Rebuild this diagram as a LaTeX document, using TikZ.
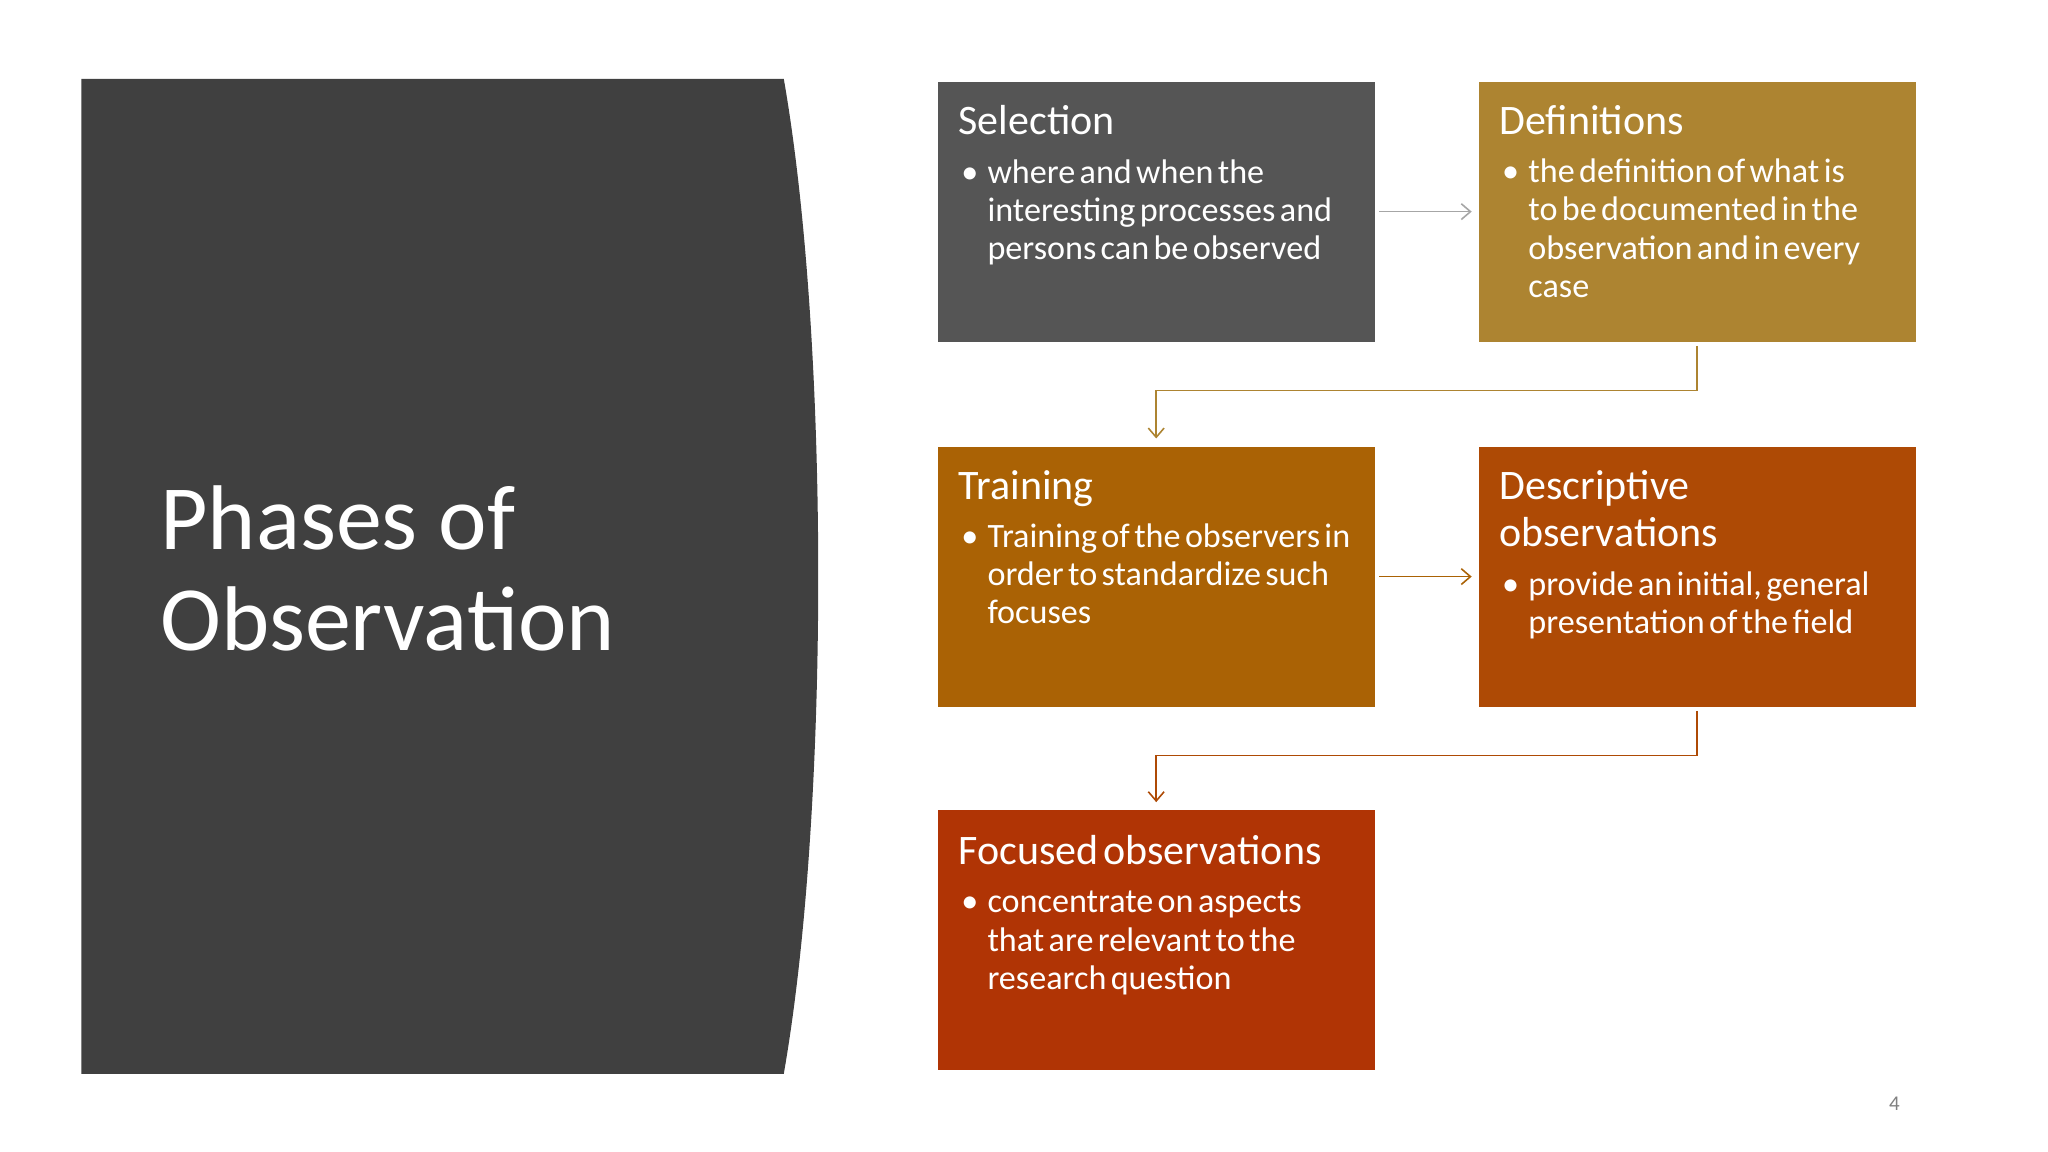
\documentclass[tikz,border=0pt]{standalone}
\usepackage{fontspec}
\setmainfont{Carlito}
\usetikzlibrary{arrows.meta}
\definecolor{cdark}{HTML}{404040}
\definecolor{csel}{HTML}{555555}
\definecolor{cdef}{HTML}{AD8431}
\definecolor{ctrn}{HTML}{AA6205}
\definecolor{cdes}{HTML}{AE4A05}
\definecolor{cfoc}{HTML}{B03405}
\hyphenpenalty=10000 \exhyphenpenalty=10000
\newcommand{\bul}[1]{\vspace{8pt}{\fontsize{26}{29}\selectfont\hangindent=22pt\hangafter=1\noindent\makebox[22pt][l]{\hspace{2pt}\textbullet}#1\par}}
\newcommand{\boxtext}[2]{{\fontsize{32}{36}\selectfont #1\par}\bul{#2}}
\tikzset{
  phase/.style={rectangle, anchor=north west, minimum width=333pt, minimum height=198pt, inner sep=0pt, draw=none},
  ptext/.style={anchor=north west, text width=300pt, align=left, inner sep=0pt, text=white},
  conn/.style={line width=1.2pt, -{Straight Barb[length=7pt,width=12pt]}}
}
\begin{document}
\begin{tikzpicture}[x=1pt,y=-1pt]
\useasboundingbox (0,0) rectangle (1560,877.5);
\fill[white] (0,0) rectangle (1560,877.5);
\fill[cdark] (62,60) -- (597,60) .. controls (632,260) and (632,618) .. (597,818) -- (62,818) -- cycle;
\node[anchor=west, text=white, align=left, font=\fontsize{70}{77}\selectfont, inner sep=0pt] (title) at (122,433) {Phases of\\Observation};

\node[phase, fill=csel] (sel) at (714,62) {};
\node[phase, fill=cdef] (def) at (1126,62) {};
\node[phase, fill=ctrn] (trn) at (714,340) {};
\node[phase, fill=cdes] (des) at (1126,340) {};
\node[phase, fill=cfoc] (foc) at (714,617) {};

\node[ptext] (tsel) at (730,80) {\boxtext{Selection}{where and when the interesting processes and persons can be observed}};
\node[ptext] (tdef) at (1142,80) {\boxtext{Definitions}{the definition of what is to be documented in the observation and in every case}};
\node[ptext] (ttrn) at (730,358) {\boxtext{Training}{Training of the observers in order to standardize such focuses}};
\node[ptext] (tdes) at (1142,358) {\boxtext{Descriptive\\observations}{provide an initial, general presentation of the field}};
\node[ptext] (tfoc) at (730,636) {\boxtext{Focused observations}{concentrate on aspects that are relevant to the research question}};

\draw[conn, color=gray!70] ([xshift=3pt]sel.east) -- ([xshift=-5pt]def.west);
\draw[conn, color=ctrn] ([xshift=3pt]trn.east) -- ([xshift=-5pt]des.west);
\coordinate (d1) at ([yshift=-37pt]def.south);
\coordinate (d2) at ([yshift=-37pt]des.south);
\draw[conn, color=cdef] ([yshift=-3pt]def.south) -- (d1) -| ([yshift=6pt]trn.north);
\draw[conn, color=cdes] ([yshift=-3pt]des.south) -- (d2) -| ([yshift=6pt]foc.north);

\node[text=gray, font=\fontsize{16}{18}\selectfont] (pg) at (1443,841) {4};
\end{tikzpicture}
\end{document}
